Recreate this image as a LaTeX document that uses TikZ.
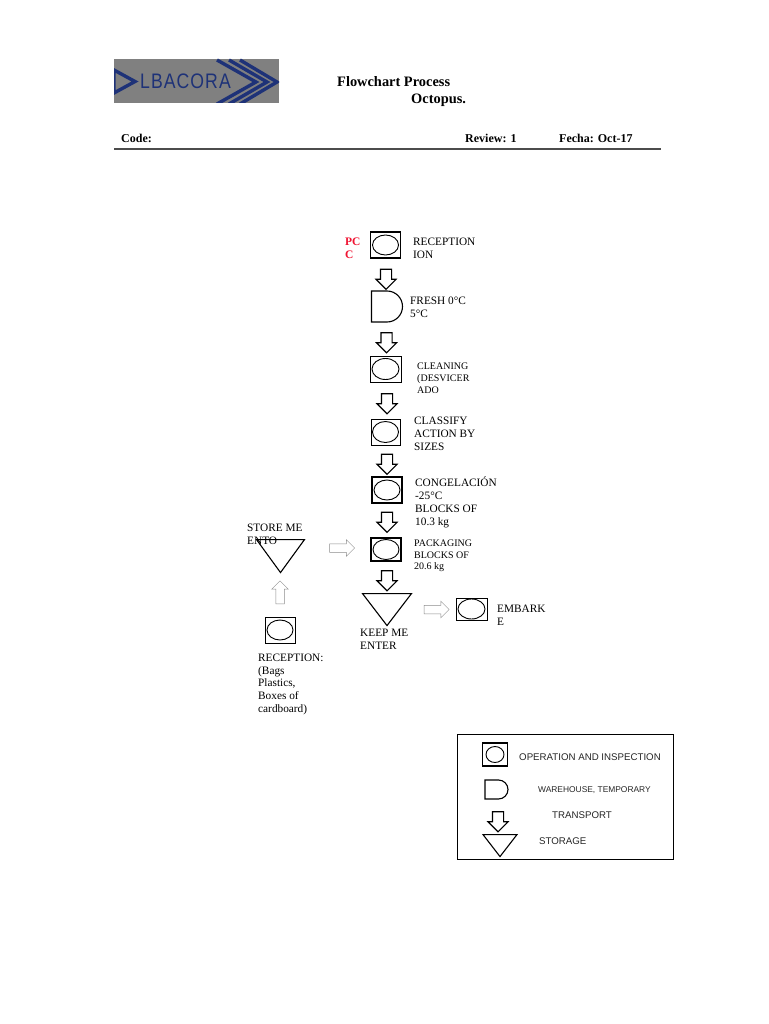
\documentclass[tikz,border=0pt]{standalone}
\usepackage{fontspec}
\setmainfont{Liberation Serif}
\newfontfamily\legendfont{Liberation Sans}
\newfontfamily\logofont[LetterSpace=6]{Liberation Sans}
\usetikzlibrary{shapes.geometric,shapes.arrows,shapes.misc}
\definecolor{navy}{RGB}{30,50,120}
\definecolor{pccred}{RGB}{240,20,50}
\tikzset{
  opbox/.style={draw=black,line width=0.9pt,rectangle,inner sep=0pt},
  opell/.style={draw=black,line width=0.9pt,ellipse,inner sep=0pt},
  darrow/.style={draw=black,line width=1.1pt,fill=white,single arrow,inner sep=5pt,
    minimum width=19pt,minimum height=20pt,single arrow head extend=4.5pt,
    single arrow tip angle=90,shape border rotate=270,anchor=center},
  lightarrow/.style={draw=black!45,line width=0.5pt,fill=white,single arrow,inner sep=4pt,
    minimum width=16pt,minimum height=25pt,single arrow head extend=4pt,
    single arrow tip angle=90,anchor=center},
  dshape/.style={draw=black,line width=1.1pt,rounded rectangle,rounded rectangle west arc=none,inner sep=0pt},
  storetri/.style={draw=black,line width=1.1pt,isosceles triangle,isosceles triangle stretches,
    shape border rotate=270,inner sep=0pt,anchor=apex},
  lab/.style={anchor=north west,inner sep=0pt,align=left,font=\fontsize{11.3}{13}\selectfont},
  slab/.style={anchor=north west,inner sep=0pt,align=left,font=\fontsize{10}{12.2}\selectfont},
  head/.style={anchor=base west,inner sep=0pt,font=\fontsize{12}{14}\selectfont\bfseries},
  titlehead/.style={head,font=\fontsize{14.4}{16}\selectfont\bfseries},
  leg/.style={anchor=west,inner sep=0pt,text=black!85},
  chev/.style={draw=navy,line width=3.4pt,line join=miter}
}
\begin{document}
\begin{tikzpicture}[x=1pt,y=-1pt]
\useasboundingbox (0,0) rectangle (768,1024);
\fill[white] (0,0) rectangle (768,1024);
% logo
\begin{scope}
\clip (114,59) rectangle (279,103);
\fill[black!50] (114,59) rectangle (279,103);
\draw[chev] (114,70) -- (135,81.5) -- (114,93) -- cycle;
\draw[chev] (217,60) -- (256,82) -- (217,104);
\draw[chev] (229,60) -- (267,82) -- (229,104);
\draw[chev] (240,60) -- (277,82) -- (240,104);
\end{scope}
\node[anchor=west,inner sep=0pt,text=navy,xscale=.84,font=\logofont\fontsize{21}{21}\selectfont] (logotext) at (140,81.5) {LBACORA};
% header
\node[titlehead] (title) at (337,87) {Flowchart Process};
\node[titlehead] (subtitle) at (411,104) {Octopus.};
\node[head] (code) at (121,143) {Code:};
\node[head] (review) at (465,143) {Review: 1};
\node[head] (fecha) at (559,143) {Fecha: Oct-17};
\draw[line width=1.3pt,black!70] (114,149) -- (661,149);
% column
\node[opbox,line width=1.4pt,minimum width=30pt,minimum height=26pt] (b1) at (385.5,245) {};
\node[opell,minimum width=26pt,minimum height=20pt] (e1) at (b1) {};
\node[darrow] (a1) at (386,276.5) {};
\node[dshape,minimum width=30pt,minimum height=31pt] (d1) at (387,306.5) {};
\node[darrow] (a2) at (386.5,340) {};
\node[opbox,minimum width=31pt,minimum height=26pt] (b2) at (385.5,369) {};
\node[opell,minimum width=27pt,minimum height=21pt] (e2) at (b2) {};
\node[darrow] (a3) at (387,401) {};
\node[opbox,minimum width=29pt,minimum height=26pt] (b3) at (385.5,432) {};
\node[opell,minimum width=26pt,minimum height=21pt] (e3) at (b3) {};
\node[darrow] (a4) at (387,461.5) {};
\node[opbox,line width=1.4pt,minimum width=30pt,minimum height=26pt] (b4) at (387,490) {};
\node[opell,minimum width=26pt,minimum height=20pt] (e4) at (b4) {};
\node[darrow] (a5) at (387,519.5) {};
\node[opbox,line width=1.2pt,minimum width=30pt,minimum height=23pt] (b5) at (386,549.5) {};
\node[opell,minimum width=26pt,minimum height=20pt] (e5) at (b5) {};
\node[darrow] (a6) at (387,578) {};
\node[storetri,minimum width=49pt,minimum height=32pt] (t1) at (387,627) {};
\node[lightarrow] (a7) at (434.5,609.5) {};
\node[opbox,minimum width=31pt,minimum height=22pt] (b6) at (471.5,609) {};
\node[opell,minimum width=27pt,minimum height=20pt] (e6) at (b6) {};
% left branch
\node[storetri,minimum width=48pt,minimum height=33pt] (t2) at (280.5,574) {};
\node[lightarrow] (a8) at (340,548) {};
\node[lightarrow,shape border rotate=90,minimum height=23pt,minimum width=15pt] (a9) at (280,594.5) {};
\node[opbox,minimum width=30pt,minimum height=26pt] (b7) at (280,630) {};
\node[opell,minimum width=26pt,minimum height=20pt] (e7) at (b7) {};
% labels
\node[lab,text=pccred,font=\fontsize{11.5}{13}\selectfont\bfseries] (pcc) at (345,237.5) {PC\\C};
\node[lab] (l1) at (413,237.5) {RECEPTION\\ION};
\node[lab] (l2) at (410,297) {FRESH 0°C\\5°C};
\node[slab] (l3) at (417,362.5) {CLEANING\\(DESVICER\\ADO};
\node[lab] (l4) at (414,416.5) {CLASSIFY\\ACTION BY\\SIZES};
\node[lab,font=\fontsize{11.3}{12.8}\selectfont] (l5) at (415,477) {CONGELACIÓN\\-25°C\\BLOCKS OF\\10.3 kg};
\node[slab,font=\fontsize{10}{11.5}\selectfont] (l6) at (414,540) {PACKAGING\\BLOCKS OF\\20.6 kg};
\node[lab] (l7) at (497,604.5) {EMBARK\\E};
\node[lab] (l8) at (360,628.5) {KEEP ME\\ENTER};
\node[lab] (l9) at (247,524) {STORE ME\\ENTO};
\node[lab,font=\fontsize{11.3}{12.6}\selectfont] (l10) at (258,654) {RECEPTION:\\(Bags\\Plastics,\\Boxes of\\cardboard)};
% legend
\node[draw=black,line width=1pt,rectangle,inner sep=0pt,minimum width=216pt,minimum height=125pt] (legend) at (565,796.5) {};
\node[opbox,line width=1.2pt,minimum width=25pt,minimum height=23pt] (lb) at (495,754.5) {};
\node[opell,minimum width=18pt,minimum height=16pt] (le) at (lb) {};
\node[leg,font=\legendfont\fontsize{9.7}{11}\selectfont] (lt1) at (519,757) {OPERATION AND INSPECTION};
\node[dshape,minimum width=23pt,minimum height=19pt] (ld) at (496.5,789.5) {};
\node[leg,font=\legendfont\fontsize{8.4}{10}\selectfont] (lt2) at (538,790.5) {WAREHOUSE, TEMPORARY};
\node[darrow] (la) at (498,819) {};
\node[leg,font=\legendfont\fontsize{9.7}{11}\selectfont] (lt3) at (552,815) {TRANSPORT};
\node[storetri,minimum width=34pt,minimum height=22pt] (lst) at (500,858) {};
\node[leg,font=\legendfont\fontsize{9.7}{11}\selectfont] (lt4) at (539,841.5) {STORAGE};
\end{tikzpicture}
\end{document}
